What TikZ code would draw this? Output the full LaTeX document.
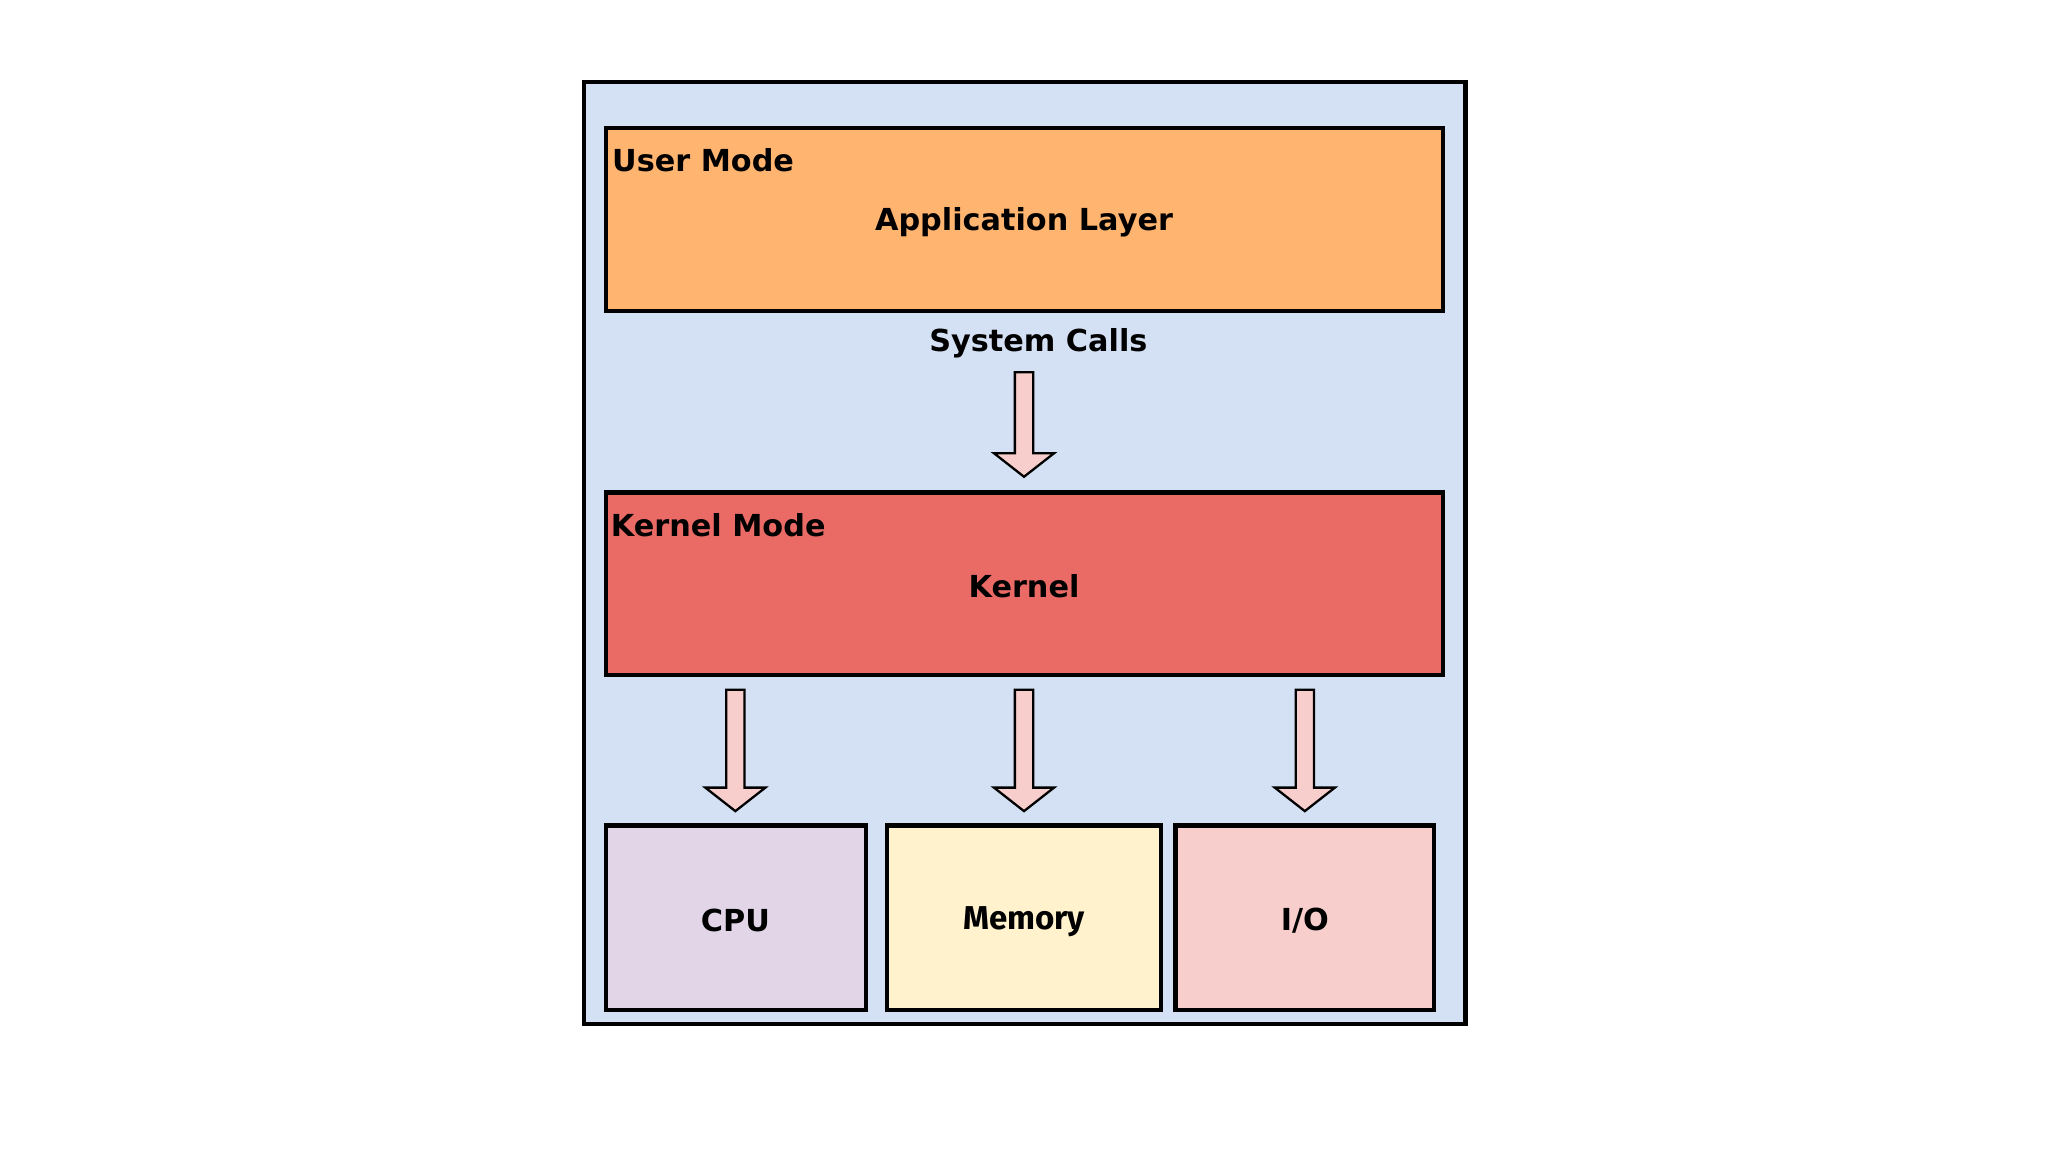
\documentclass[tikz,border=0pt]{standalone}
\usepackage{fontspec}
\setmainfont{DejaVu Sans}
\newfontfamily\comicf{Fira Sans}
\definecolor{outerc}{HTML}{D4E1F5}
\definecolor{userc}{HTML}{FFB570}
\definecolor{kernc}{HTML}{EA6B66}
\definecolor{cpuc}{HTML}{E1D5E7}
\definecolor{memc}{HTML}{FFF2CC}
\definecolor{ioc}{HTML}{F8CECC}
\newcommand\myblockarr[3]{%
 \fill[ioc,draw=black,line width=0.5pt] (#1-0.07,-#2) -- (#1+0.07,-#2) -- (#1+0.07,-#3+0.18) -- (#1+0.23,-#3+0.18) -- (#1,-#3) -- (#1-0.23,-#3+0.18) -- (#1-0.07,-#3+0.18) -- cycle;}
\begin{document}
\begin{tikzpicture}[x=1cm,y=1cm,
 box/.style={draw=black,line width=0.9pt},
 lbl/.style={font=\fontsize{6.6}{8}\selectfont\bfseries,inner sep=0pt}]
\useasboundingbox (0,0) rectangle (15.68,-8.82);
\draw[box,fill=outerc] (4.47,-0.63) rectangle (11.22,-7.84);
\draw[box,fill=userc] (4.64,-0.98) rectangle (11.05,-2.38);
\node[lbl,anchor=west] (um) at (4.68,-1.23) {User Mode};
\node[lbl] (app) at (7.84,-1.70) {Application Layer};
\node[lbl] (sc) at (7.95,-2.63) {System Calls};
\myblockarr{7.84}{2.85}{3.65}
\draw[box,fill=kernc] (4.64,-3.77) rectangle (11.05,-5.17);
\node[lbl,anchor=west] (km) at (4.67,-4.02) {Kernel Mode};
\node[lbl] (k) at (7.84,-4.49) {Kernel};
\myblockarr{5.63}{5.28}{6.21}
\myblockarr{7.84}{5.28}{6.21}
\myblockarr{9.99}{5.28}{6.21}
\draw[box,fill=cpuc] (4.64,-6.32) rectangle (6.63,-7.73);
\draw[box,fill=memc] (6.79,-6.32) rectangle (8.89,-7.73);
\draw[box,fill=ioc] (9.00,-6.32) rectangle (10.98,-7.73);
\node[lbl] (cpu) at (5.63,-7.05) {CPU};
\node[lbl,font=\comicf\fontsize{7.2}{9}\selectfont\bfseries] (mem) at (7.84,-7.06) {Memory};
\node[lbl] (io) at (9.99,-7.05) {I/O};
\end{tikzpicture}
\end{document}
